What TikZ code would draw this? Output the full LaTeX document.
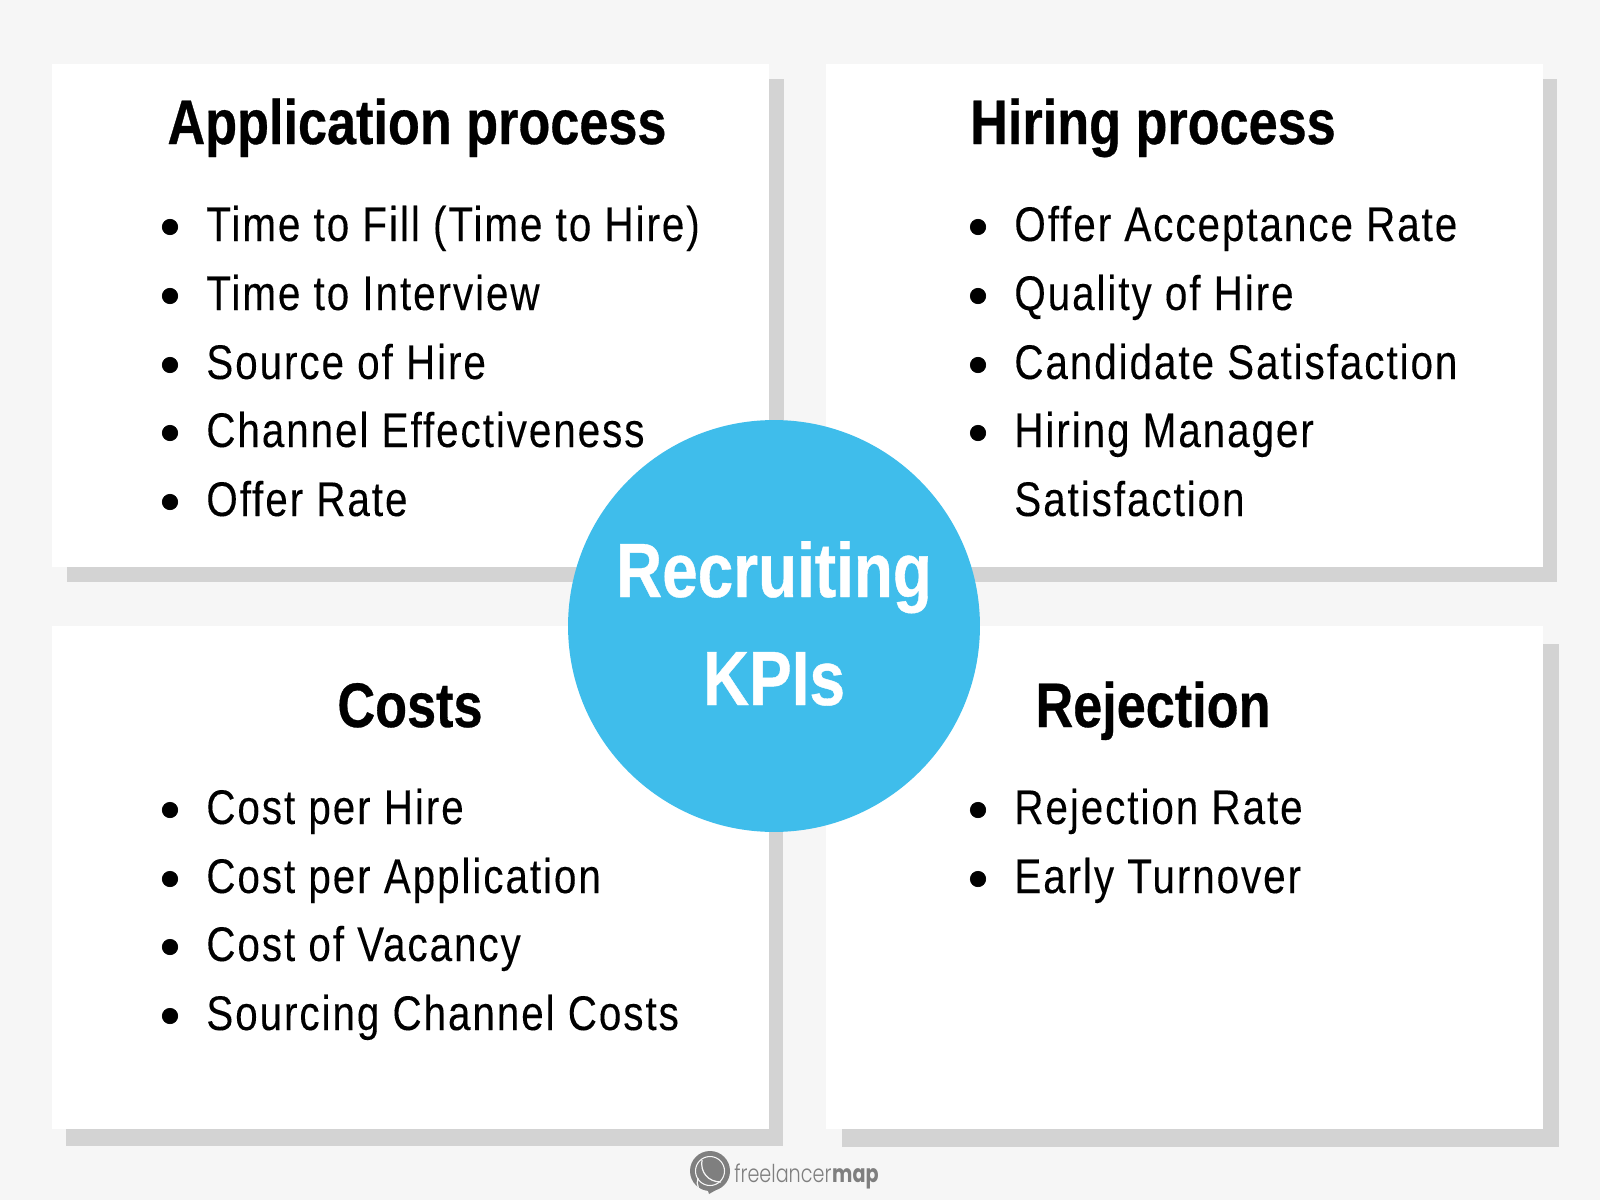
\documentclass[tikz,border=0pt]{standalone}
\usepackage{fontspec}
\setmainfont{Liberation Sans}
\newfontfamily\kpibody{Liberation Sans}[FakeStretch=0.83,LetterSpace=4.0,FakeBold=0.15]
\newfontfamily\kpihead{Liberation Sans Bold}[FakeStretch=0.83,FakeBold=0.5]
\newfontfamily\logothin{Poppins Light}[FakeStretch=0.78]
\newfontfamily\logobold{Poppins Bold}[FakeStretch=0.78]
\definecolor{pagegrey}{HTML}{F6F6F6}
\definecolor{shadowgrey}{HTML}{D3D3D3}
\definecolor{kpiblue}{HTML}{3FBDEB}
\definecolor{logogrey}{HTML}{7F7F7F}
\tikzset{
  cardtitle/.style={anchor=base, inner sep=0, font=\kpihead\fontsize{35.8}{36}\selectfont},
  carditem/.style={anchor=base west, inner sep=0, font=\kpibody\fontsize{27.7}{28}\selectfont},
  hubtext/.style={anchor=base, inner sep=0, text=white, font=\kpihead\fontsize{43.8}{44}\selectfont},
}

\begin{document}
\begin{tikzpicture}[x=0.02cm, y=-0.02cm]
\useasboundingbox (0,0) rectangle (1600,1200);
\fill[pagegrey] (0,0) rectangle (1600,1200);
% shadows
\fill[shadowgrey] (67,79) rectangle (784,582);
\fill[shadowgrey] (841,79) rectangle (1557,582);
\fill[shadowgrey] (66,644) rectangle (783,1146);
\fill[shadowgrey] (842,644) rectangle (1559,1147);
% cards
\fill[white] (52,64) rectangle (769,567);
\fill[white] (826,64) rectangle (1543,567);
\fill[white] (52,626) rectangle (769,1129);
\fill[white] (826,626) rectangle (1543,1129);
% application process
\node[cardtitle] (apptitle) at (417,144) {Application process};
\draw[fill] (170,227) circle [radius=7.7];
\node[carditem] (appfill) at (206,241) {Time to Fill (Time to Hire)};
\draw[fill] (170,296) circle [radius=7.7];
\node[carditem] (appinterview) at (206,310) {Time to Interview};
\draw[fill] (170,365) circle [radius=7.7];
\node[carditem] (appsource) at (206,379) {Source of Hire};
\draw[fill] (170,433) circle [radius=7.7];
\node[carditem] (appchannel) at (206,447) {Channel Effectiveness};
\draw[fill] (170,502) circle [radius=7.7];
\node[carditem] (appoffer) at (206,516) {Offer Rate};
% hiring process
\node[cardtitle] (hiretitle) at (1153,144) {Hiring process};
\draw[fill] (978,227) circle [radius=7.7];
\node[carditem] (hireoffer) at (1014,241) {Offer Acceptance Rate};
\draw[fill] (978,296) circle [radius=7.7];
\node[carditem] (hirequality) at (1014,310) {Quality of Hire};
\draw[fill] (978,365) circle [radius=7.7];
\node[carditem] (hirecandidate) at (1014,379) {Candidate Satisfaction};
\draw[fill] (978,433) circle [radius=7.7];
\node[carditem] (hiremanager) at (1014,447) {Hiring Manager};
\node[carditem] (hiresatisfaction) at (1014,516) {Satisfaction};
% costs
\node[cardtitle] (coststitle) at (410,727) {Costs};
\draw[fill] (170,810) circle [radius=7.7];
\node[carditem] (costhire) at (206,824) {Cost per Hire};
\draw[fill] (170,879) circle [radius=7.7];
\node[carditem] (costapplication) at (206,893) {Cost per Application};
\draw[fill] (170,947) circle [radius=7.7];
\node[carditem] (costvacancy) at (206,961) {Cost of Vacancy};
\draw[fill] (170,1016) circle [radius=7.7];
\node[carditem] (costsourcing) at (206,1030) {Sourcing Channel Costs};
% rejection
\node[cardtitle] (rejecttitle) at (1153,727) {Rejection};
\draw[fill] (978,810) circle [radius=7.7];
\node[carditem] (rejectrate) at (1014,824) {Rejection Rate};
\draw[fill] (978,879) circle [radius=7.7];
\node[carditem] (rejectearly) at (1014,893) {Early Turnover};
% hub
\node[circle, fill=kpiblue, inner sep=0, minimum size=8.24cm] (hub) at (774,626) {};
\node[hubtext] (hubtop) at (774,597) {Recruiting};
\node[hubtext] (hubbottom) at (774,705) {KPIs};
% logo
\fill[logogrey] (710,1171) circle [radius=20];
\fill[logogrey] (707,1188) -- (716,1190) -- (709,1194) -- cycle;
\draw[pagegrey, line width=0.6pt] (710,1171) circle [radius=14.5];
\draw[pagegrey, line width=0.7pt] (698,1178) arc [start angle=200, end angle=60, radius=13];
\draw[pagegrey, line width=0.7pt] (702,1160) .. controls (700,1172) and (708,1182) .. (721,1182);
\node[anchor=base west, inner sep=0, text=logogrey, font=\logothin\fontsize{14}{14}\selectfont] (logoleft) at (734,1182) {freelancer};
\node[anchor=base west, inner sep=0, text=logogrey, font=\logobold\fontsize{14}{14}\selectfont] (logoright) at (logoleft.base east) {map};
\end{tikzpicture}
\end{document}
